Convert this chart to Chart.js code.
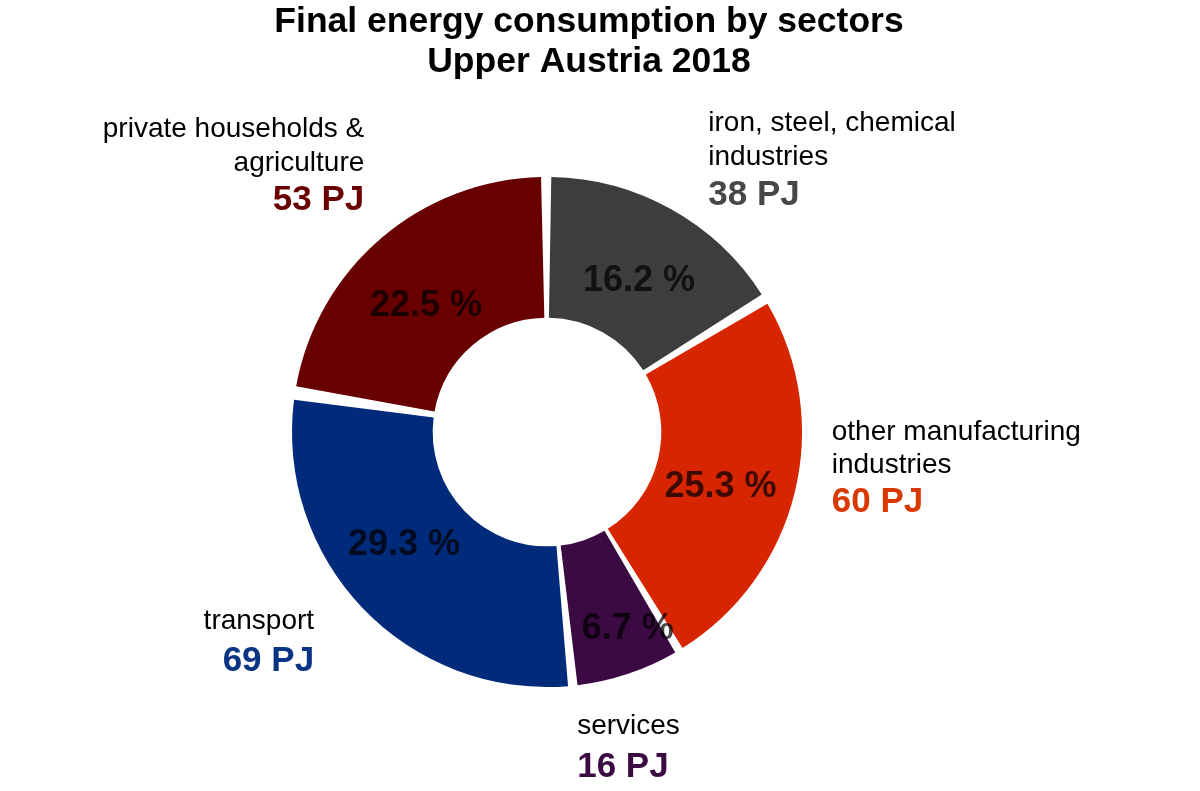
<!DOCTYPE html>
<html>
<head>
<meta charset="utf-8">
<script src="https://cdn.jsdelivr.net/npm/chart.js@4.4.1/dist/chart.umd.min.js"></script>
<style>
    html, body { margin: 0; padding: 0; background: #fff; }
    #chartContainer { width: 1200px; height: 791px; }
</style>
</head>
<body>
<div id="chartContainer"><canvas id="sectorChart" width="1200" height="791"></canvas></div>
<script>
// Data (clockwise from 12 o'clock)
const sectorLines = [
    ['iron, steel, chemical', 'industries'],
    ['other manufacturing', 'industries'],
    ['services'],
    ['transport'],
    ['private households &', 'agriculture']
];
const energyPJ = [38, 60, 16, 69, 53];
const sharePercent = [16.2, 25.3, 6.7, 29.3, 22.5];
const titleLines = ['Final energy consumption by sectors', 'Upper Austria 2018'];

const sliceColors = ['#3d3d3b', '#d72500', '#3b0a43', '#002a7a', '#690000'];
const valueColors = ['#474747', '#d93800', '#3b0a43', '#0a3585', '#6a0000'];

// label placement relative to the outer edge point at each slice's mid angle
const labelLayout = [
    { dx: 40, align: 'left', baselines: [-84, -50, -10] },
    { dx: 43, align: 'left', baselines: [-52, -19, 20] },
    { dx: -49, align: 'left', baselines: [66, 109] },
    { dx: -53, align: 'right', baselines: [25, 67] },
    { dx: -21, align: 'right', baselines: [-106, -72, -33] }
];
// nudges for the percentages, from the ring's middle radius
const pctNudge = [[5, 5], [0, 12], [24, 28], [-14, -10], [-5, 10]];

const FONT = '"Liberation Sans", Arial, Helvetica, sans-serif';

const labelPlugin = {
    id: 'sectorLabels',
    afterDatasetsDraw(chart) {
        const ctx = chart.ctx;
        const meta = chart.getDatasetMeta(0);
        ctx.save();

        // title
        ctx.fillStyle = '#000';
        ctx.textAlign = 'center';
        ctx.textBaseline = 'alphabetic';
        ctx.font = 'bold 35.5px ' + FONT;
        ctx.fillText(titleLines[0], 589, 32);
        ctx.fillText(titleLines[1], 589, 72);

        meta.data.forEach((arc, i) => {
            const p = arc.getProps(['x', 'y', 'startAngle', 'endAngle', 'innerRadius', 'outerRadius'], true);
            const mid = (p.startAngle + p.endAngle) / 2;

            // percentage inside the ring
            const rMid = (p.innerRadius + p.outerRadius) / 2;
            ctx.font = 'bold 36px ' + FONT;
            ctx.textAlign = 'center';
            ctx.textBaseline = 'middle';
            ctx.fillStyle = 'rgba(0,0,0,0.72)';
            ctx.fillText(sharePercent[i].toFixed(1) + ' %',
                p.x + Math.cos(mid) * rMid + pctNudge[i][0],
                p.y + Math.sin(mid) * rMid + pctNudge[i][1]);

            // outside label
            const ox = p.x + Math.cos(mid) * p.outerRadius;
            const oy = p.y + Math.sin(mid) * p.outerRadius;
            const lay = labelLayout[i];
            ctx.textAlign = lay.align;
            ctx.textBaseline = 'alphabetic';
            const lines = sectorLines[i];
            ctx.font = '28px ' + FONT;
            ctx.fillStyle = '#000';
            lines.forEach((t, j) => ctx.fillText(t, ox + lay.dx, oy + lay.baselines[j]));
            ctx.font = 'bold 35px ' + FONT;
            ctx.fillStyle = valueColors[i];
            ctx.fillText(energyPJ[i] + ' PJ', ox + lay.dx, oy + lay.baselines[lines.length]);
        });
        ctx.restore();
    }
};

new Chart(document.getElementById('sectorChart'), {
    type: 'doughnut',
    data: {
        labels: sectorLines.map(l => l.join(' ')),
        datasets: [{
            data: sharePercent,
            backgroundColor: sliceColors,
            borderWidth: 0,
            spacing: 12
        }]
    },
    options: {
        responsive: false,
        animation: false,
        cutout: '43.5%',
        layout: { padding: { left: 292, top: 177, right: 398, bottom: 104 } },
        plugins: {
            legend: { display: false },
            tooltip: { enabled: false },
            title: { display: false }
        }
    },
    plugins: [labelPlugin]
});
</script>
</body>
</html>
